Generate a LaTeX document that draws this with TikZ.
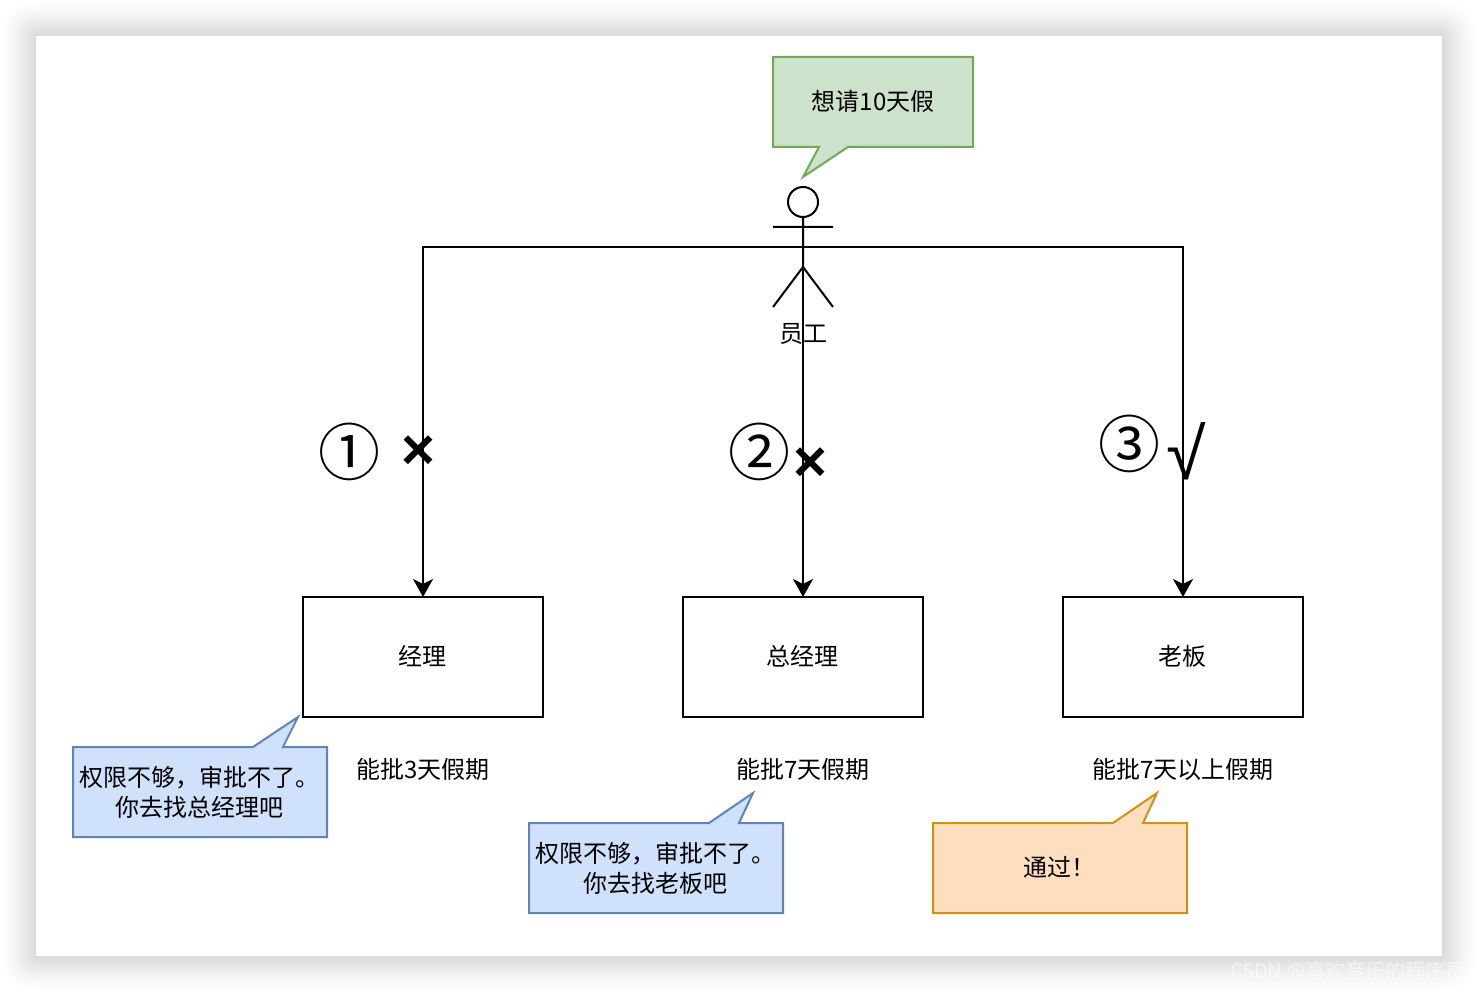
\documentclass[tikz,border=0pt]{standalone}
\usepackage{fontspec}
\usetikzlibrary{arrows.meta}
\setmainfont{Noto Sans CJK SC}
\newfontfamily\symfont{Noto Sans CJK SC}
\newfontfamily\libfont{Liberation Sans}
\definecolor{greenfill}{HTML}{CDE2CB}
\definecolor{greenline}{HTML}{72A85A}
\definecolor{bluefill}{HTML}{D0E1FB}
\definecolor{blueline}{HTML}{5F83BB}
\definecolor{orangefill}{HTML}{FDDEBF}
\definecolor{orangeline}{HTML}{D0920F}
\tikzset{
  x=1pt,y=-1pt,
  every node/.style={inner sep=0pt,outer sep=0pt},
  body/.style={font=\fontsize{24}{30}\selectfont,text=black,align=center},
  boxnode/.style={draw=black,line width=2pt,minimum width=240pt,minimum height=120pt,body},
  line/.style={draw=black,line width=2pt},
  link/.style={line,-{Stealth[length=18pt,width=20pt,inset=5pt]}},
  greencall/.style={draw=greenline,fill=greenfill,line width=2pt,line join=miter},
  bluecall/.style={draw=blueline,fill=bluefill,line width=2pt},
  orangecall/.style={draw=orangeline,fill=orangefill,line width=2pt},
  marknum/.style={font=\symfont\fontsize{62}{62}\selectfont,text=black},
  markcross/.style={font=\libfont\bfseries\fontsize{58}{58}\selectfont,text=black},
  markok/.style={font=\libfont\fontsize{72}{72}\selectfont,text=black},
}
\begin{document}
\begin{tikzpicture}
\useasboundingbox (0,0) rectangle (1478,992);
\fill[white] (0,0) rectangle (1478,992);
% soft page shadow
\foreach \i in {36,35,...,1}{
  \pgfmathsetmacro{\g}{100-15*(1-\i/37)^1.5}
  \definecolor{shadowtone}{gray}{\fpeval{\g/100}}
  \fill[shadowtone,rounded corners=\i pt] (36-\i,36-\i) rectangle (1442+\i,956+\i);
}
\fill[white] (36,36) rectangle (1442,956);

% actor
\draw[line,fill=white] (803,202) circle[radius=15];
\draw[line] (803,217) -- (803,267) (773,227) -- (833,227) (773,307) -- (803,267) -- (833,307);
\coordinate (actor) at (803,247);
\node[body] (actorlabel) at (803,334) {员工};

% boxes
\node[boxnode] (mgr) at (423,657) {\raisebox{3pt}{\kern-2pt 经理}};
\node[boxnode] (gm) at (803,657) {\raisebox{3pt}{\kern-2pt 总经理}};
\node[boxnode] (boss) at (1183,657) {\raisebox{3pt}{\kern-2pt 老板}};

% connectors
\draw[link] (actor) -| (mgr.north);
\draw[link] (actor) -- (gm.north);
\draw[link] (actor) -| (boss.north);

% callouts
\draw[greencall] (773,57) -- (973,57) -- (973,147) -- (848,147) -- (803,177) -- (819,147) -- (773,147) -- cycle;
\node[body] (wish) at (873,101) {想请10天假};
\draw[bluecall] (73,747) -- (253,747) -- (298,717) -- (283,747) -- (327,747) -- (327,837) -- (73,837) -- cycle;
\node[body] (reply1) at (199,792) {权限不够，审批不了。\\你去找总经理吧};
\draw[bluecall] (529,823) -- (709,823) -- (753,793) -- (739,823) -- (783,823) -- (783,913) -- (529,913) -- cycle;
\node[body] (reply2) at (655,868) {权限不够，审批不了。\\你去找老板吧};
\draw[orangecall] (933,823) -- (1113,823) -- (1157,793) -- (1143,823) -- (1187,823) -- (1187,913) -- (933,913) -- cycle;
\node[body] (pass) at (1059,867) {通过！};

% limits
\node[body] (lim1) at (423,769) {能批3天假期};
\node[body] (lim2) at (803,769) {能批7天假期};
\node[body] (lim3) at (1183,769) {能批7天以上假期};

% marks
\node[marknum] (n1) at (349,452) {①};
\node[marknum] (n2) at (759,452) {②};
\node[marknum] (n3) at (1129,444) {③};
\node[markcross] (c1) at (418,453) {×};
\node[markcross] (c2) at (810,465) {×};
\node[markok] (ok) at (1186,451) {√};

% watermark
\node[font=\fontsize{20}{20}\selectfont,text=white,opacity=.55,anchor=west] (wm) at (1230,972) {CSDN @喜欢音乐的程序员};
\end{tikzpicture}
\end{document}
